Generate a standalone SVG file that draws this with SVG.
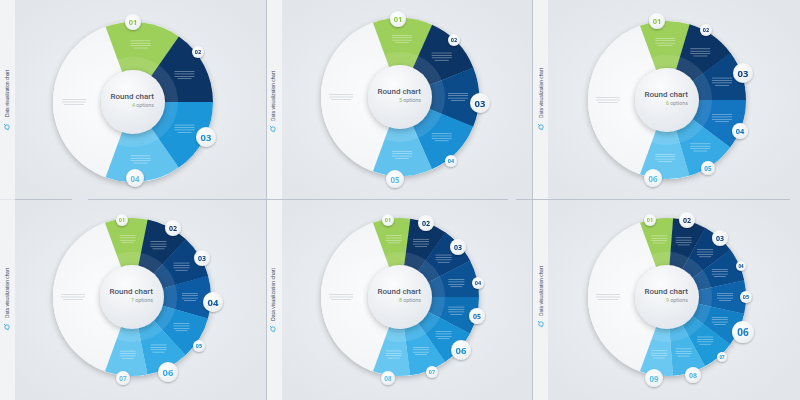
<svg xmlns="http://www.w3.org/2000/svg" xmlns:xlink="http://www.w3.org/1999/xlink" width="800" height="400" viewBox="0 0 800 400">
<defs>
<style>
.w{fill:none;stroke-width:80}
.base{fill:#f3f5f7}
.ring{fill:#ffffff;opacity:.1}
.t1{font-family:Roboto,"Liberation Sans",sans-serif;font-weight:500;font-size:8px;fill:#4b5363;text-anchor:end}
.t2{font-family:Roboto,"Liberation Sans",sans-serif;font-size:5.3px;fill:#8a939f;text-anchor:end}
.gn{fill:#8cc63f}
.bd{fill:url(#bgr)}
.bn{font-family:"Open Sans","Liberation Sans",sans-serif;font-weight:700;text-anchor:middle;dominant-baseline:central}
.vt{font-family:"Liberation Sans",sans-serif;font-size:5.2px;fill:#3d4b60}
.strip{fill:#f1f3f5}
.sep{stroke:#bcc3cc;stroke-width:1}
.ic{fill:none;stroke:#2aa4e0;stroke-width:0.8}
</style>
<radialGradient id="pbg" cx="0.5" cy="0.5" r="0.6">
<stop offset="0" stop-color="#eff2f5"/><stop offset="1" stop-color="#e2e6ea"/>
</radialGradient>
<radialGradient id="cg" cx="0.4" cy="0.3" r="0.8">
<stop offset="0" stop-color="#fbfcfd"/><stop offset="1" stop-color="#e1e5ea"/>
</radialGradient>
<radialGradient id="bgr" cx="0.4" cy="0.35" r="0.75">
<stop offset="0" stop-color="#ffffff"/><stop offset="1" stop-color="#e9edf1"/>
</radialGradient>
<radialGradient id="dg" cx="0.35" cy="0.5" r="0.7">
<stop offset="0" stop-color="#fbfcfd"/><stop offset="1" stop-color="#eef1f4"/>
</radialGradient>
<filter id="sh" x="-30%" y="-30%" width="160%" height="160%">
<feGaussianBlur in="SourceAlpha" stdDeviation="3"/><feOffset dy="2"/>
<feComponentTransfer><feFuncA type="linear" slope="0.25"/></feComponentTransfer>
<feMerge><feMergeNode/><feMergeNode in="SourceGraphic"/></feMerge>
</filter>
<filter id="bs" x="-50%" y="-50%" width="200%" height="200%">
<feGaussianBlur in="SourceAlpha" stdDeviation="1.2"/><feOffset dy="0.8"/>
<feComponentTransfer><feFuncA type="linear" slope="0.3"/></feComponentTransfer>
<feMerge><feMergeNode/><feMergeNode in="SourceGraphic"/></feMerge>
</filter>
<g id="gw" fill="#ffffff" opacity="0.55">
<rect x="-10" y="-4" width="20" height="0.6"/><rect x="-10" y="-1.6" width="20" height="0.6"/><rect x="-10" y="0.8" width="20" height="0.6"/><rect x="-7" y="3.2" width="14" height="0.6"/>
</g>
<g id="gs" fill="#ffffff" opacity="0.55">
<rect x="-8" y="-4" width="16" height="0.6"/><rect x="-8" y="-1.6" width="16" height="0.6"/><rect x="-8" y="0.8" width="16" height="0.6"/><rect x="-6" y="3.2" width="12" height="0.6"/>
</g>
<g id="gg" fill="#c8cdd4">
<rect x="-12" y="-2.6" width="24" height="0.6"/><rect x="-12" y="-0.3" width="24" height="0.6"/><rect x="-10" y="2" width="20" height="0.6"/>
</g>
<g id="icon">
<circle r="2.2" class="ic"/><path d="M-1.5,-1.5 L-3,-3 M1,2 L1,3.2" class="ic"/>
</g>
</defs>

<rect width="800" height="400" fill="#e3e7eb"/>
<rect x="0" y="0" width="266" height="199" fill="url(#pbg)"/>
<rect x="266" y="0" width="266" height="199" fill="url(#pbg)"/>
<rect x="532" y="0" width="268" height="199" fill="url(#pbg)"/>
<rect x="0" y="199" width="266" height="201" fill="url(#pbg)"/>
<rect x="266" y="199" width="266" height="201" fill="url(#pbg)"/>
<rect x="532" y="199" width="268" height="201" fill="url(#pbg)"/>

<g id="frames">
<rect class="strip" x="0" y="0" width="15" height="199"/>
<rect class="strip" x="266" y="0" width="16" height="199"/>
<rect class="strip" x="532" y="0" width="16" height="199"/>
<rect class="strip" x="0" y="200" width="15" height="200"/>
<rect class="strip" x="266" y="200" width="16" height="200"/>
<rect class="strip" x="532" y="200" width="16" height="200"/>
<line class="sep" x1="266.5" y1="0" x2="266.5" y2="400"/>
<line class="sep" x1="532.5" y1="0" x2="532.5" y2="400"/>
<line class="sep" x1="15" y1="199.5" x2="72" y2="199.5"/>
<line class="sep" x1="88" y1="199.5" x2="508" y2="199.5"/>
<line class="sep" x1="516" y1="199.5" x2="790" y2="199.5"/>
</g>

<g id="side-labels">
<text class="vt" transform="translate(9,117) rotate(-90)" textLength="47" lengthAdjust="spacingAndGlyphs">Data visualization chart</text>
<use href="#icon" x="7" y="127"/>
<text class="vt" transform="translate(275,121) rotate(-90)" textLength="50" lengthAdjust="spacingAndGlyphs">Data visualization chart</text>
<use href="#icon" x="273" y="129"/>
<text class="vt" transform="translate(543,118) rotate(-90)" textLength="50" lengthAdjust="spacingAndGlyphs">Data visualization chart</text>
<use href="#icon" x="541" y="127"/>
<text class="vt" transform="translate(9,318) rotate(-90)" textLength="50" lengthAdjust="spacingAndGlyphs">Data visualization chart</text>
<use href="#icon" x="7" y="327"/>
<text class="vt" transform="translate(275,321) rotate(-90)" textLength="53" lengthAdjust="spacingAndGlyphs">Data visualization chart</text>
<use href="#icon" x="273" y="329"/>
<text class="vt" transform="translate(543,316) rotate(-90)" textLength="50" lengthAdjust="spacingAndGlyphs">Data visualization chart</text>
<use href="#icon" x="541" y="324"/>
</g>

<!-- Panel 1: 4 options -->
<g id="chart-4" transform="translate(133,102)">
<circle r="80" class="base" filter="url(#sh)"/>
<circle r="80" fill="url(#dg)"/>
<circle r="40" pathLength="360" class="w" stroke="#9dcf5b" stroke-dasharray="55.3 360" transform="rotate(-110)"/>
<circle r="40" pathLength="360" class="w" stroke="#0c3566" stroke-dasharray="55.3 360" transform="rotate(-55)"/>
<circle r="40" pathLength="360" class="w" stroke="#1b96d8" stroke-dasharray="55.3 360" transform="rotate(0)"/>
<circle r="40" pathLength="360" class="w" stroke="#62c3ef" stroke-dasharray="55 360" transform="rotate(55)"/>
<use href="#gw" transform="rotate(7.5) translate(0,-58) rotate(-7.5)"/>
<use href="#gw" transform="rotate(62.5) translate(0,-58) rotate(-62.5)"/>
<use href="#gw" transform="rotate(117.5) translate(0,-58) rotate(-117.5)"/>
<use href="#gw" transform="rotate(172.5) translate(0,-58) rotate(-172.5)"/>
<use href="#gg" x="-59" y="0"/>
<circle r="45" class="ring"/>
<circle r="32" fill="url(#cg)" filter="url(#sh)"/>
<text class="t1" x="21" y="-3">Round chart</text>
<text class="t2" x="21" y="5"><tspan class="gn">4</tspan> options</text>
</g>
<g id="badges-4" filter="url(#bs)">
<circle class="bd" cx="133" cy="22" r="8"/><text class="bn" x="133" y="22" font-size="7.5" fill="#8cc63f">01</text>
<circle class="bd" cx="198" cy="52" r="6"/><text class="bn" x="198" y="52" font-size="5.5" fill="#0c3566">02</text>
<circle class="bd" cx="206" cy="137" r="10"/><text class="bn" x="206" y="137" font-size="9.5" fill="#1b8fd3">03</text>
<circle class="bd" cx="135" cy="178" r="9"/><text class="bn" x="135" y="178" font-size="8" fill="#5dbfea">04</text>
</g>

<!-- Panel 2: 5 options -->
<g id="chart-5" transform="translate(400,97)">
<circle r="79" class="base" filter="url(#sh)"/>
<circle r="79" fill="url(#dg)"/>
<circle r="39.5" pathLength="360" class="w" style="stroke-width:79" stroke="#9dcf5b" stroke-dasharray="44.3 360" transform="rotate(-110)"/>
<circle r="39.5" pathLength="360" class="w" style="stroke-width:79" stroke="#0c3566" stroke-dasharray="44.3 360" transform="rotate(-66)"/>
<circle r="39.5" pathLength="360" class="w" style="stroke-width:79" stroke="#0b4b8a" stroke-dasharray="44.3 360" transform="rotate(-22)"/>
<circle r="39.5" pathLength="360" class="w" style="stroke-width:79" stroke="#1b8fd3" stroke-dasharray="44.3 360" transform="rotate(22)"/>
<circle r="39.5" pathLength="360" class="w" style="stroke-width:79" stroke="#62c2ee" stroke-dasharray="44 360" transform="rotate(66)"/>
<use href="#gw" transform="rotate(2) translate(0,-58) rotate(-2)"/>
<use href="#gw" transform="rotate(46) translate(0,-58) rotate(-46)"/>
<use href="#gw" transform="rotate(90) translate(0,-58) rotate(-90)"/>
<use href="#gw" transform="rotate(134) translate(0,-58) rotate(-134)"/>
<use href="#gw" transform="rotate(178) translate(0,-58) rotate(-178)"/>
<use href="#gg" x="-59" y="0"/>
<circle r="45" class="ring"/>
<circle r="32" fill="url(#cg)" filter="url(#sh)"/>
<text class="t1" x="21" y="-3">Round chart</text>
<text class="t2" x="21" y="5"><tspan class="gn">5</tspan> options</text>
</g>
<g id="badges-5" filter="url(#bs)">
<circle class="bd" cx="398" cy="19" r="8"/><text class="bn" x="398" y="19" font-size="7.5" fill="#8cc63f">01</text>
<circle class="bd" cx="454" cy="40" r="6"/><text class="bn" x="454" y="40" font-size="5.5" fill="#0c3566">02</text>
<circle class="bd" cx="480" cy="103" r="10"/><text class="bn" x="480" y="103" font-size="9.5" fill="#0b4b8a">03</text>
<circle class="bd" cx="451" cy="161" r="6"/><text class="bn" x="451" y="161" font-size="5.5" fill="#1b8fd3">04</text>
<circle class="bd" cx="395" cy="179" r="9"/><text class="bn" x="395" y="179" font-size="8" fill="#5dbfea">05</text>
</g>

<!-- Panel 3: 6 options -->
<g id="chart-6" transform="translate(667,100)">
<circle r="79" class="base" filter="url(#sh)"/>
<circle r="79" fill="url(#dg)"/>
<circle r="39.5" pathLength="360" class="w" style="stroke-width:79" stroke="#9dcf5b" stroke-dasharray="37 360" transform="rotate(-110)"/>
<circle r="39.5" pathLength="360" class="w" style="stroke-width:79" stroke="#0c3566" stroke-dasharray="37 360" transform="rotate(-73.333)"/>
<circle r="39.5" pathLength="360" class="w" style="stroke-width:79" stroke="#0b4683" stroke-dasharray="37 360" transform="rotate(-36.667)"/>
<circle r="39.5" pathLength="360" class="w" style="stroke-width:79" stroke="#1475c0" stroke-dasharray="37 360" transform="rotate(0)"/>
<circle r="39.5" pathLength="360" class="w" style="stroke-width:79" stroke="#36aae4" stroke-dasharray="37 360" transform="rotate(36.667)"/>
<circle r="39.5" pathLength="360" class="w" style="stroke-width:79" stroke="#66c6f0" stroke-dasharray="36.667 360" transform="rotate(73.333)"/>
<use href="#gw" transform="rotate(-1.667) translate(0,-58) rotate(1.667)"/>
<use href="#gw" transform="rotate(35) translate(0,-58) rotate(-35)"/>
<use href="#gw" transform="rotate(71.667) translate(0,-58) rotate(-71.667)"/>
<use href="#gw" transform="rotate(108.333) translate(0,-58) rotate(-108.333)"/>
<use href="#gw" transform="rotate(145) translate(0,-58) rotate(-145)"/>
<use href="#gw" transform="rotate(181.667) translate(0,-58) rotate(-181.667)"/>
<use href="#gg" x="-59" y="0"/>
<circle r="45" class="ring"/>
<circle r="32" fill="url(#cg)" filter="url(#sh)"/>
<text class="t1" x="21" y="-3">Round chart</text>
<text class="t2" x="21" y="5"><tspan class="gn">6</tspan> options</text>
</g>
<g id="badges-6" filter="url(#bs)">
<circle class="bd" cx="657" cy="21" r="8"/><text class="bn" x="657" y="21" font-size="7.5" fill="#8cc63f">01</text>
<circle class="bd" cx="706" cy="30" r="6"/><text class="bn" x="706" y="30" font-size="5.5" fill="#0c3566">02</text>
<circle class="bd" cx="743" cy="73" r="10"/><text class="bn" x="743" y="73" font-size="9.5" fill="#0b4683">03</text>
<circle class="bd" cx="740" cy="131" r="8"/><text class="bn" x="740" y="131" font-size="7.5" fill="#1475c0">04</text>
<circle class="bd" cx="708" cy="168" r="7"/><text class="bn" x="708" y="168" font-size="6.5" fill="#36aae4">05</text>
<circle class="bd" cx="653" cy="178" r="9"/><text class="bn" x="653" y="178" font-size="8" fill="#5dbfea">06</text>
</g>

<!-- Panel 4: 7 options -->
<g id="chart-7" transform="translate(132,297)">
<circle r="79" class="base" filter="url(#sh)"/>
<circle r="79" fill="url(#dg)"/>
<circle r="39.5" pathLength="360" class="w" style="stroke-width:79" stroke="#9dcf5b" stroke-dasharray="31.7 360" transform="rotate(-110)"/>
<circle r="39.5" pathLength="360" class="w" style="stroke-width:79" stroke="#0c3566" stroke-dasharray="31.7 360" transform="rotate(-78.571)"/>
<circle r="39.5" pathLength="360" class="w" style="stroke-width:79" stroke="#0b4380" stroke-dasharray="31.7 360" transform="rotate(-47.143)"/>
<circle r="39.5" pathLength="360" class="w" style="stroke-width:79" stroke="#0d5ba2" stroke-dasharray="31.7 360" transform="rotate(-15.714)"/>
<circle r="39.5" pathLength="360" class="w" style="stroke-width:79" stroke="#1a8fd3" stroke-dasharray="31.7 360" transform="rotate(15.714)"/>
<circle r="39.5" pathLength="360" class="w" style="stroke-width:79" stroke="#34abe5" stroke-dasharray="31.7 360" transform="rotate(47.143)"/>
<circle r="39.5" pathLength="360" class="w" style="stroke-width:79" stroke="#66c6f0" stroke-dasharray="31.43 360" transform="rotate(78.571)"/>
<use href="#gs" transform="rotate(-4.286) translate(0,-58) rotate(4.286)"/>
<use href="#gs" transform="rotate(27.143) translate(0,-58) rotate(-27.143)"/>
<use href="#gs" transform="rotate(58.571) translate(0,-58) rotate(-58.571)"/>
<use href="#gs" transform="rotate(90) translate(0,-58) rotate(-90)"/>
<use href="#gs" transform="rotate(121.429) translate(0,-58) rotate(-121.429)"/>
<use href="#gs" transform="rotate(152.857) translate(0,-58) rotate(-152.857)"/>
<use href="#gs" transform="rotate(184.286) translate(0,-58) rotate(-184.286)"/>
<use href="#gg" x="-59" y="0"/>
<circle r="45" class="ring"/>
<circle r="32" fill="url(#cg)" filter="url(#sh)"/>
<text class="t1" x="21" y="-3">Round chart</text>
<text class="t2" x="21" y="5"><tspan class="gn">7</tspan> options</text>
</g>
<g id="badges-7" filter="url(#bs)">
<circle class="bd" cx="122" cy="220" r="6"/><text class="bn" x="122" y="220" font-size="5.5" fill="#8cc63f">01</text>
<circle class="bd" cx="173" cy="228" r="8"/><text class="bn" x="173" y="228" font-size="7" fill="#0c3566">02</text>
<circle class="bd" cx="202" cy="258" r="8"/><text class="bn" x="202" y="258" font-size="7" fill="#0b4380">03</text>
<circle class="bd" cx="213" cy="302" r="10"/><text class="bn" x="213" y="302" font-size="9.5" fill="#0d5ba2">04</text>
<circle class="bd" cx="199" cy="346" r="6"/><text class="bn" x="199" y="346" font-size="5.5" fill="#1a8fd3">05</text>
<circle class="bd" cx="168" cy="372" r="10"/><text class="bn" x="168" y="372" font-size="9.5" fill="#34abe5">06</text>
<circle class="bd" cx="123" cy="378" r="7"/><text class="bn" x="123" y="378" font-size="6.5" fill="#5dbfea">07</text>
</g>

<!-- Panel 5: 8 options -->
<g id="chart-8" transform="translate(400,297)">
<circle r="79" class="base" filter="url(#sh)"/>
<circle r="79" fill="url(#dg)"/>
<circle r="39.5" pathLength="360" class="w" style="stroke-width:79" stroke="#9dcf5b" stroke-dasharray="27.8 360" transform="rotate(-110)"/>
<circle r="39.5" pathLength="360" class="w" style="stroke-width:79" stroke="#0c3566" stroke-dasharray="27.8 360" transform="rotate(-82.5)"/>
<circle r="39.5" pathLength="360" class="w" style="stroke-width:79" stroke="#0b417d" stroke-dasharray="27.8 360" transform="rotate(-55)"/>
<circle r="39.5" pathLength="360" class="w" style="stroke-width:79" stroke="#0c5395" stroke-dasharray="27.8 360" transform="rotate(-27.5)"/>
<circle r="39.5" pathLength="360" class="w" style="stroke-width:79" stroke="#1070b6" stroke-dasharray="27.8 360" transform="rotate(0)"/>
<circle r="39.5" pathLength="360" class="w" style="stroke-width:79" stroke="#1a92d5" stroke-dasharray="27.8 360" transform="rotate(27.5)"/>
<circle r="39.5" pathLength="360" class="w" style="stroke-width:79" stroke="#3bafe7" stroke-dasharray="27.8 360" transform="rotate(55)"/>
<circle r="39.5" pathLength="360" class="w" style="stroke-width:79" stroke="#68c7f1" stroke-dasharray="27.5 360" transform="rotate(82.5)"/>
<use href="#gs" transform="rotate(-6.25) translate(0,-58) rotate(6.25)"/>
<use href="#gs" transform="rotate(21.25) translate(0,-58) rotate(-21.25)"/>
<use href="#gs" transform="rotate(48.75) translate(0,-58) rotate(-48.75)"/>
<use href="#gs" transform="rotate(76.25) translate(0,-58) rotate(-76.25)"/>
<use href="#gs" transform="rotate(103.75) translate(0,-58) rotate(-103.75)"/>
<use href="#gs" transform="rotate(131.25) translate(0,-58) rotate(-131.25)"/>
<use href="#gs" transform="rotate(158.75) translate(0,-58) rotate(-158.75)"/>
<use href="#gs" transform="rotate(186.25) translate(0,-58) rotate(-186.25)"/>
<use href="#gg" x="-59" y="0"/>
<circle r="45" class="ring"/>
<circle r="32" fill="url(#cg)" filter="url(#sh)"/>
<text class="t1" x="21" y="-3">Round chart</text>
<text class="t2" x="21" y="5"><tspan class="gn">8</tspan> options</text>
</g>
<g id="badges-8" filter="url(#bs)">
<circle class="bd" cx="388" cy="220" r="6"/><text class="bn" x="388" y="220" font-size="5.5" fill="#8cc63f">01</text>
<circle class="bd" cx="426" cy="223" r="8"/><text class="bn" x="426" y="223" font-size="7" fill="#0c3566">02</text>
<circle class="bd" cx="458" cy="247" r="8"/><text class="bn" x="458" y="247" font-size="7" fill="#0b417d">03</text>
<circle class="bd" cx="478" cy="283" r="6"/><text class="bn" x="478" y="283" font-size="5.5" fill="#0c5395">04</text>
<circle class="bd" cx="477" cy="316" r="8"/><text class="bn" x="477" y="316" font-size="7" fill="#1070b6">05</text>
<circle class="bd" cx="461" cy="350" r="10"/><text class="bn" x="461" y="350" font-size="9.5" fill="#1a92d5">06</text>
<circle class="bd" cx="432" cy="372" r="6"/><text class="bn" x="432" y="372" font-size="5.5" fill="#3bafe7">07</text>
<circle class="bd" cx="388" cy="378" r="7"/><text class="bn" x="388" y="378" font-size="6.5" fill="#5dbfea">08</text>
</g>

<!-- Panel 6: 9 options -->
<g id="chart-9" transform="translate(667,297)">
<circle r="79" class="base" filter="url(#sh)"/>
<circle r="79" fill="url(#dg)"/>
<circle r="39.5" pathLength="360" class="w" style="stroke-width:79" stroke="#9dcf5b" stroke-dasharray="24.7 360" transform="rotate(-110)"/>
<circle r="39.5" pathLength="360" class="w" style="stroke-width:79" stroke="#0c3566" stroke-dasharray="24.7 360" transform="rotate(-85.556)"/>
<circle r="39.5" pathLength="360" class="w" style="stroke-width:79" stroke="#0b3f7a" stroke-dasharray="24.7 360" transform="rotate(-61.111)"/>
<circle r="39.5" pathLength="360" class="w" style="stroke-width:79" stroke="#0b4c8c" stroke-dasharray="24.7 360" transform="rotate(-36.667)"/>
<circle r="39.5" pathLength="360" class="w" style="stroke-width:79" stroke="#0e63aa" stroke-dasharray="24.7 360" transform="rotate(-12.222)"/>
<circle r="39.5" pathLength="360" class="w" style="stroke-width:79" stroke="#157fc5" stroke-dasharray="24.7 360" transform="rotate(12.222)"/>
<circle r="39.5" pathLength="360" class="w" style="stroke-width:79" stroke="#1e9ad9" stroke-dasharray="24.7 360" transform="rotate(36.667)"/>
<circle r="39.5" pathLength="360" class="w" style="stroke-width:79" stroke="#45b5ea" stroke-dasharray="24.7 360" transform="rotate(61.111)"/>
<circle r="39.5" pathLength="360" class="w" style="stroke-width:79" stroke="#6ac8f1" stroke-dasharray="24.444 360" transform="rotate(85.556)"/>
<use href="#gs" transform="rotate(-7.778) translate(0,-58) rotate(7.778)"/>
<use href="#gs" transform="rotate(16.667) translate(0,-58) rotate(-16.667)"/>
<use href="#gs" transform="rotate(41.111) translate(0,-58) rotate(-41.111)"/>
<use href="#gs" transform="rotate(65.556) translate(0,-58) rotate(-65.556)"/>
<use href="#gs" transform="rotate(90) translate(0,-58) rotate(-90)"/>
<use href="#gs" transform="rotate(114.444) translate(0,-58) rotate(-114.444)"/>
<use href="#gs" transform="rotate(138.889) translate(0,-58) rotate(-138.889)"/>
<use href="#gs" transform="rotate(163.333) translate(0,-58) rotate(-163.333)"/>
<use href="#gs" transform="rotate(187.778) translate(0,-58) rotate(-187.778)"/>
<use href="#gg" x="-59" y="0"/>
<circle r="45" class="ring"/>
<circle r="32" fill="url(#cg)" filter="url(#sh)"/>
<text class="t1" x="21" y="-3">Round chart</text>
<text class="t2" x="21" y="5"><tspan class="gn">9</tspan> options</text>
</g>
<g id="badges-9" filter="url(#bs)">
<circle class="bd" cx="650" cy="220" r="6"/><text class="bn" x="650" y="220" font-size="5.5" fill="#8cc63f">01</text>
<circle class="bd" cx="687" cy="220" r="8"/><text class="bn" x="687" y="220" font-size="7" fill="#0c3566">02</text>
<circle class="bd" cx="720" cy="238" r="8"/><text class="bn" x="720" y="238" font-size="7" fill="#0b3f7a">03</text>
<circle class="bd" cx="741" cy="266" r="5"/><text class="bn" x="741" y="266" font-size="4.5" fill="#0b4c8c">04</text>
<circle class="bd" cx="746" cy="297" r="6"/><text class="bn" x="746" y="297" font-size="5.5" fill="#0e63aa">05</text>
<circle class="bd" cx="743" cy="332" r="11"/><text class="bn" x="743" y="332" font-size="10" fill="#157fc5">06</text>
<circle class="bd" cx="722" cy="357" r="5"/><text class="bn" x="722" y="357" font-size="4.5" fill="#1e9ad9">07</text>
<circle class="bd" cx="693" cy="375" r="8"/><text class="bn" x="693" y="375" font-size="7" fill="#45b5ea">08</text>
<circle class="bd" cx="654" cy="378" r="9"/><text class="bn" x="654" y="378" font-size="8" fill="#5dbfea">09</text>
</g>
</svg>
